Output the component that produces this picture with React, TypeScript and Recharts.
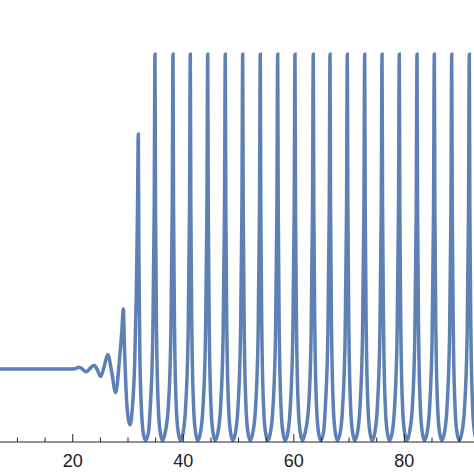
import React from 'react';
import { LineChart, Line, XAxis, YAxis } from 'recharts';

// flat stretch and the growing wiggles before the spiking starts: [t, signal]
const onset: [number, number][] = [
  [6.8, 0.188], [12, 0.188], [17, 0.188], [19.5, 0.188], [20.4, 0.189],
  [21.13, 0.193], [21.75, 0.188], [22.4, 0.181], [23.1, 0.189], [23.85, 0.198],
  [24.45, 0.186], [25.06, 0.169], [25.7, 0.195], [26.33, 0.226], [27.0, 0.185],
  [27.77, 0.127], [28.5, 0.22], [28.9, 0.29], [29.15, 0.343], [29.35, 0.25],
  [29.7, 0.12], [30.0, 0.065], [30.36, 0.044], [30.8, 0.09], [31.2, 0.2],
  [31.5, 0.38], [31.72, 0.6], [31.86, 0.794], [31.96, 0.5], [32.15, 0.22],
  [32.45, 0.08], [32.8, 0.02], [33.2, 0.004], [33.7, 0.025], [34.03, 0.09],
  [34.48, 0.27], [34.74, 0.6],
];

// regular spikes, one row per cycle: [t, signal]
const spikes: [number, number][] = [
  [34.88, 1], [34.98, 0.6], [35.18, 0.27], [35.48, 0.09], [35.83, 0.025], [36.24, 0.004], [36.73, 0.025], [37.29, 0.09], [37.74, 0.27], [38.0, 0.6],
  [38.14, 1], [38.24, 0.6], [38.44, 0.27], [38.74, 0.09], [39.09, 0.025], [39.5, 0.004], [39.99, 0.025], [40.42, 0.09], [40.87, 0.27], [41.13, 0.6],
  [41.27, 1], [41.37, 0.6], [41.57, 0.27], [41.87, 0.09], [42.22, 0.025], [42.63, 0.004], [43.12, 0.025], [43.57, 0.09], [44.02, 0.27], [44.28, 0.6],
  [44.42, 1], [44.52, 0.6], [44.72, 0.27], [45.02, 0.09], [45.37, 0.025], [45.78, 0.004], [46.27, 0.025], [46.75, 0.09], [47.2, 0.27], [47.46, 0.6],
  [47.6, 1], [47.7, 0.6], [47.9, 0.27], [48.2, 0.09], [48.55, 0.025], [48.96, 0.004], [49.45, 0.025], [49.9, 0.09], [50.35, 0.27], [50.61, 0.6],
  [50.75, 1], [50.85, 0.6], [51.05, 0.27], [51.35, 0.09], [51.7, 0.025], [52.11, 0.004], [52.6, 0.025], [53.08, 0.09], [53.53, 0.27], [53.79, 0.6],
  [53.93, 1], [54.03, 0.6], [54.23, 0.27], [54.53, 0.09], [54.88, 0.025], [55.29, 0.004], [55.78, 0.025], [56.23, 0.09], [56.68, 0.27], [56.94, 0.6],
  [57.08, 1], [57.18, 0.6], [57.38, 0.27], [57.68, 0.09], [58.03, 0.025], [58.44, 0.004], [58.93, 0.025], [59.36, 0.09], [59.81, 0.27], [60.07, 0.6],
  [60.21, 1], [60.31, 0.6], [60.51, 0.27], [60.81, 0.09], [61.16, 0.025], [61.57, 0.004], [62.06, 0.025], [62.67, 0.09], [63.12, 0.27], [63.38, 0.6],
  [63.52, 1], [63.62, 0.6], [63.82, 0.27], [64.12, 0.09], [64.47, 0.025], [64.88, 0.004], [65.37, 0.025], [65.7, 0.09], [66.15, 0.27], [66.41, 0.6],
  [66.55, 1], [66.65, 0.6], [66.85, 0.27], [67.15, 0.09], [67.5, 0.025], [67.91, 0.004], [68.4, 0.025], [68.83, 0.09], [69.28, 0.27], [69.54, 0.6],
  [69.68, 1], [69.78, 0.6], [69.98, 0.27], [70.28, 0.09], [70.63, 0.025], [71.04, 0.004], [71.53, 0.025], [71.97, 0.09], [72.42, 0.27], [72.68, 0.6],
  [72.82, 1], [72.92, 0.6], [73.12, 0.27], [73.42, 0.09], [73.77, 0.025], [74.18, 0.004], [74.67, 0.025], [75.11, 0.09], [75.56, 0.27], [75.82, 0.6],
  [75.96, 1], [76.06, 0.6], [76.26, 0.27], [76.56, 0.09], [76.91, 0.025], [77.32, 0.004], [77.81, 0.025], [78.23, 0.09], [78.68, 0.27], [78.94, 0.6],
  [79.08, 1], [79.18, 0.6], [79.38, 0.27], [79.68, 0.09], [80.03, 0.025], [80.44, 0.004], [80.93, 0.025], [81.44, 0.09], [81.89, 0.27], [82.15, 0.6],
  [82.29, 1], [82.39, 0.6], [82.59, 0.27], [82.89, 0.09], [83.24, 0.025], [83.65, 0.004], [84.14, 0.025], [84.57, 0.09], [85.02, 0.27], [85.28, 0.6],
  [85.42, 1], [85.52, 0.6], [85.72, 0.27], [86.02, 0.09], [86.37, 0.025], [86.78, 0.004], [87.27, 0.025], [87.72, 0.09], [88.17, 0.27], [88.43, 0.6],
  [88.57, 1], [88.67, 0.6], [88.87, 0.27], [89.17, 0.09], [89.52, 0.025], [89.93, 0.004], [90.42, 0.025], [90.9, 0.09], [91.35, 0.27], [91.61, 0.6],
  [91.75, 1], [91.85, 0.6], [92.05, 0.27], [92.35, 0.09], [92.7, 0.025], [93.11, 0.004],
];

const xTicks = [10, 15, 20, 25, 30, 35, 40, 45, 50, 55, 60, 65, 70, 75, 80, 85, 90];
const labelTicks = [20, 40, 60, 80];

const data = [...onset, ...spikes].map(([t, v]) => ({ t, v }));

const AXIS = '#222';

const Tick = (props: any) => {
  const { x, y, payload } = props;
  const major = labelTicks.includes(payload.value);
  return (
    <g>
      <line x1={x} x2={x} y1={y} y2={y - (major ? 8 : 4.5)} stroke={AXIS} strokeWidth={1} />
      {major && (
        <text x={x} y={y + 25} textAnchor="middle" fontSize={18} fill={AXIS}
          fontFamily="'Liberation Sans', Arial, sans-serif">
          {payload.value}
        </text>
      )}
    </g>
  );
};

export default function App() {
  return (
    <div style={{ position: 'absolute', left: 0, top: 0, background: '#fff' }}>
      <LineChart width={474} height={474} data={data} margin={{ top: 0, right: 0, bottom: 0, left: 0 }}>
        <XAxis
          dataKey="t"
          type="number"
          domain={[6.84, 92.6]}
          allowDataOverflow
          ticks={xTicks}
          interval={0}
          height={32}
          tickSize={0}
          tickMargin={0}
          tickLine={false}
          axisLine={{ stroke: AXIS, strokeWidth: 1 }}
          tick={<Tick />}
        />
        <YAxis hide domain={[0, 1.14]} allowDataOverflow />
        <Line
          type="monotone"
          dataKey="v"
          stroke="#5E81B5"
          strokeWidth={3.5}
          dot={false}
          activeDot={false}
          isAnimationActive={false}
        />
      </LineChart>
    </div>
  );
}
